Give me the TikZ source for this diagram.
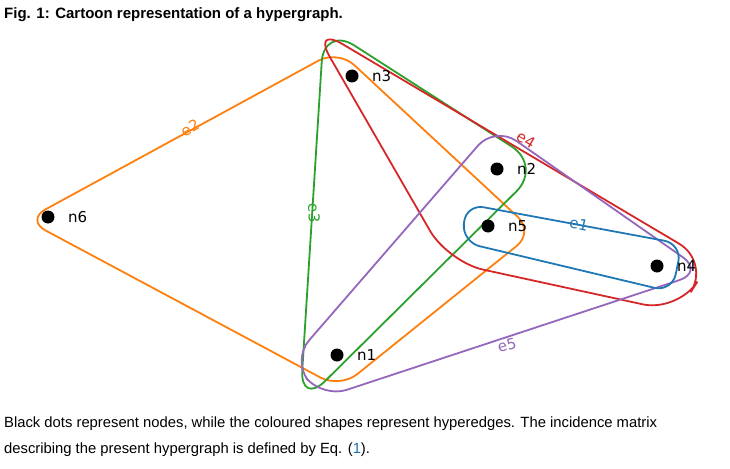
\documentclass[tikz,border=0pt]{standalone}
\usepackage{fontspec}
\setmainfont{Liberation Sans}
\newfontfamily\dvs{DejaVu Sans}
\definecolor{tblue}{HTML}{1F77B4}
\definecolor{torange}{HTML}{FF7F0E}
\definecolor{tgreen}{HTML}{2CA02C}
\definecolor{tred}{HTML}{D62728}
\definecolor{tpurple}{HTML}{9467BD}
\definecolor{linkblue}{HTML}{1A6FB0}
\begin{document}
\begin{tikzpicture}[x=1pt,y=-1pt,
  vert/.style={circle,fill=black,inner sep=0pt,minimum size=13pt},
  lab/.style={font=\dvs\fontsize{15}{15}\selectfont,anchor=west,inner sep=0pt},
  hedge/.style={line width=1.8pt,rounded corners=26pt},
  elab/.style={font=\dvs\fontsize{15}{15}\selectfont,inner sep=1pt}]
\useasboundingbox (0,0) rectangle (730,468);
\node[anchor=west,font=\bfseries\fontsize{15}{18}\selectfont,inner sep=0pt] (title) at (4,15) {Fig. 1: Cartoon representation of a hypergraph.};
% hyperedges
\draw[hedge,torange,rounded corners=22pt] (26,220) -- (338,50) -- (534,232) -- (340,388) -- cycle;
\draw[hedge,tgreen,rounded corners=36pt] (324,26) -- (542,166) -- (300,406) -- cycle;
\draw[hedge,tred,rounded corners=36pt] (312,26) -- (710,262) -- (678,312) -- (448,262) -- cycle;
\draw[hedge,tpurple] (495,126) -- (704,272) -- (322,398) -- (292,360) -- cycle;
\draw[hedge,tblue,rounded corners=18pt] (466,204) -- (682,244) -- (672,292) -- (462,242) -- cycle;
% nodes
\node[vert] (n3) at (352,76) {};
\node[vert] (n2) at (497,169) {};
\node[vert] (n6) at (48,217) {};
\node[vert] (n5) at (488,226) {};
\node[vert] (n4) at (657,266) {};
\node[vert] (n1) at (337,355) {};
\node[lab] (l3) at (372,76) {n3};
\node[lab] (l2) at (517,169) {n2};
\node[lab] (l6) at (68,217) {n6};
\node[lab] (l5) at (508,226) {n5};
\node[lab] (l4) at (677,266) {n4};
\node[lab] (l1) at (357,355) {n1};
% edge labels
\node[elab,torange,rotate=28] (e2) at (190,128) {e2};
\node[elab,tgreen,rotate=-88] (e3) at (314,213) {e3};
\node[elab,tred,rotate=-30] (e4) at (526,140) {e4};
\node[elab,tblue,rotate=-12] (e1) at (579,224) {e1};
\node[elab,tpurple,rotate=14] (e5) at (507,345) {e5};
% caption
\node[anchor=north west,align=left,font=\fontsize{14.8}{26}\selectfont,inner sep=0pt] (cap) at (4,417)
 {Black dots represent nodes, while the coloured shapes represent hyperedges. The incidence matrix\\
 describing the present hypergraph is defined by Eq. (\textcolor{linkblue}{1}).};
\end{tikzpicture}
\end{document}
